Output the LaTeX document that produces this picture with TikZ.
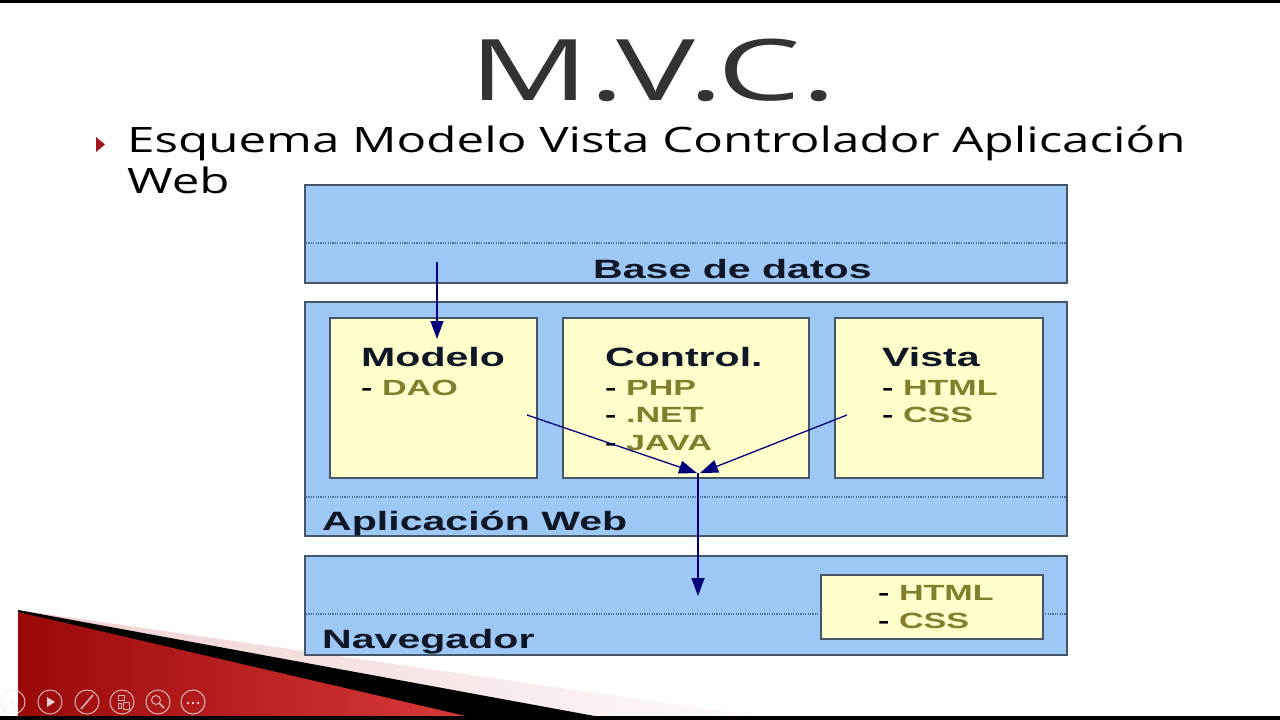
\documentclass[tikz,border=0pt]{standalone}
\usepackage{fontspec}
\usepackage{graphicx}
\usetikzlibrary{arrows.meta}
\setmainfont{Open Sans}
\newfontfamily\titlefont{Open Sans}
\newfontfamily\bulletfont{Open Sans}
\newfontfamily\diafont{Liberation Sans}
\definecolor{boxblue}{HTML}{9DC8F6}
\definecolor{boxyellow}{HTML}{FFFFCC}
\definecolor{boxline}{HTML}{46566A}
\definecolor{dotline}{HTML}{4A72A2}
\definecolor{olive}{HTML}{7F7F2E}
\definecolor{navyarrow}{HTML}{00007A}
\definecolor{titlegray}{HTML}{333333}
\definecolor{bulletred}{HTML}{A01818}
\definecolor{wedgered}{HTML}{D83A3A}
\definecolor{wedgedark}{HTML}{9A0808}
\definecolor{wedgepink}{HTML}{EFCFCF}
\definecolor{labelink}{HTML}{0F1626}
\newcommand{\wide}[1]{\scalebox{1.55}[1]{#1}}
\tikzset{
  layer/.style={draw=boxline, line width=1.6pt, fill=boxblue},
  part/.style={draw=boxline, line width=1.6pt, fill=boxyellow},
  sep/.style={draw=dotline, line width=1.1pt, dash pattern=on 1.2pt off 1.2pt},
  head/.style={anchor=base west, inner sep=0pt, font=\diafont\bfseries\fontsize{26.5}{28}\selectfont, text=labelink},
  item/.style={anchor=base west, inner sep=0pt, font=\diafont\bfseries\fontsize{22}{24}\selectfont},
  flow/.style={draw=navyarrow, line width=1.3pt, -{Triangle[length=18pt,width=13pt]}},
  icon/.style={draw=white!85!gray, line width=1pt, opacity=0.75}
}
\newcommand{\itm}[1]{\wide{\textcolor{black}{-} \textcolor{olive}{#1}}}
\begin{document}
\begin{tikzpicture}[x=1pt,y=-1pt]
\useasboundingbox (0,0) rectangle (1280,720);
\fill[white] (0,0) rectangle (1280,720);
% top strip
\fill[black] (0,0) rectangle (1280,3);
% decorative wedge
\shade[left color=wedgepink, right color=white!90!wedgepink] (18,610) -- (763,717) -- (18,717) -- cycle;
\fill[black] (18,610) -- (600,717) -- (18,717) -- cycle;
\shade[left color=wedgedark, right color=wedgered] (18,612) -- (470,717) -- (18,717) -- cycle;
\fill[black] (0,716) rectangle (1280,720);
% icons
\draw[icon] (13,702) circle (12);
\draw[icon] (17,696) -- (11,702) -- (17,708);
\draw[icon] (50,702) circle (12);
\fill[white, opacity=0.8] (47,697) -- (55,702) -- (47,707) -- cycle;
\draw[icon] (87,702) circle (12);
\draw[icon, line width=1.6pt] (81,709) -- (93,695);
\draw[icon] (122,702) circle (12);
\draw[icon] (118,695) rectangle (124,700);
\draw[icon] (118,703) rectangle (121,708);
\draw[icon] (123,702) rectangle (129,709);
\draw[icon] (158,702) circle (12);
\draw[icon] (156,700) circle (4.5);
\draw[icon, line width=1.6pt] (159.5,703.5) -- (164,708);
\draw[icon] (193,702) circle (12);
\fill[white, opacity=0.8] (188,703) circle (1.3) (193,703) circle (1.3) (198,703) circle (1.3);
% title
\node[anchor=base, inner sep=0pt, text=titlegray, font=\titlefont\fontsize{85}{90}\selectfont] (title) at (653,100) {\scalebox{1.56}[1]{M.V.C.}};
% bullet
\fill[bulletred] (96,137) -- (105,144.5) -- (96,152) -- cycle;
\node[anchor=base west, inner sep=0pt, font=\bulletfont\fontsize{35}{40}\selectfont] (bul1) at (127,152) {\scalebox{1.408}[1]{Esquema Modelo Vista Controlador Aplicación}};
\node[anchor=base west, inner sep=0pt, font=\bulletfont\fontsize{35}{40}\selectfont] (bul2) at (127,193) {\scalebox{1.408}[1]{Web}};
% layers
\draw[layer] (305,185) rectangle (1067,283);
\draw[sep] (306,243) -- (1066,243);
\node[head] (bd) at (593,278) {\wide{Base de datos}};
\draw[layer] (305,302) rectangle (1067,536);
\draw[sep] (306,497) -- (1066,497);
\node[head] (aw) at (322,530) {\wide{Aplicación Web}};
\draw[layer] (305,556) rectangle (1067,655);
\draw[sep] (306,614) -- (1066,614);
\node[head] (nav) at (322,648) {\wide{Navegador}};
% parts
\draw[part] (330,318) rectangle (537,478);
\draw[part] (563,318) rectangle (809,478);
\draw[part] (835,318) rectangle (1043,478);
\draw[part] (821,575) rectangle (1043,639);
\node[head] (mod) at (361,366) {\wide{Modelo}};
\node[item] (dao) at (361,395) {\itm{DAO}};
\node[head] (ctl) at (605,366) {\wide{Control.}};
\node[item] (php) at (605,395) {\itm{PHP}};
\node[item] (net) at (605,422) {\itm{.NET}};
\node[item] (java) at (605,450) {\itm{JAVA}};
\node[head] (vis) at (882,366) {\wide{Vista}};
\node[item] (html) at (882,395) {\itm{HTML}};
\node[item] (css) at (882,422) {\itm{CSS}};
\node[item] (nhtml) at (878,600) {\itm{HTML}};
\node[item] (ncss) at (878,628) {\itm{CSS}};
% arrows
\coordinate (dbout) at (437,262);
\coordinate (modin) at (437,339);
\coordinate (modout) at (527,415);
\coordinate (visout) at (847,415);
\coordinate (hubL) at (697,473);
\coordinate (hubR) at (700,473);
\coordinate (hub) at (698,473);
\coordinate (navin) at (698,596);
\draw[flow] (dbout) -- (modin);
\draw[flow] (modout) -- (hubL);
\draw[flow] (visout) -- (hubR);
\draw[flow] (hub) -- (navin);
\end{tikzpicture}
\end{document}
